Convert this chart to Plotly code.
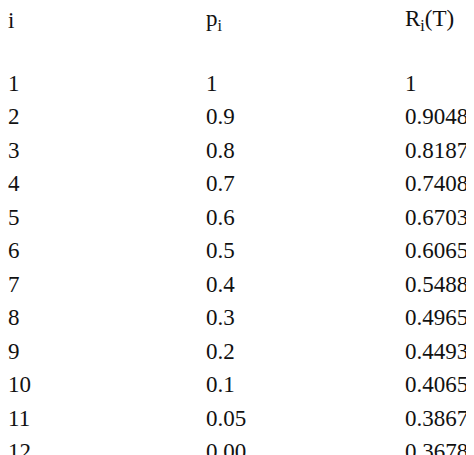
import plotly.graph_objects as go

headers = ["i", "p<sub>i</sub>", "R<sub>i</sub>(T)"]
idx = ["1", "2", "3", "4", "5", "6", "7", "8", "9", "10", "11", "12"]
p_vals = ["1", "0.9", "0.8", "0.7", "0.6", "0.5", "0.4", "0.3", "0.2", "0.1", "0.05", "0.00"]
r_vals = ["1", "0.90484", "0.81873", "0.74081", "0.67032", "0.60653",
          "0.54881", "0.49658", "0.44932", "0.40657", "0.38674", "0.36787"]

font = dict(family="Liberation Serif, Times New Roman, serif", size=23, color="#111")
header_row = -0.88

fig = go.Figure()
# invisible trace so the axes exist
fig.add_trace(go.Scatter(x=[0, 2], y=[1, 12], mode="markers",
                         marker=dict(opacity=0), hoverinfo="skip", showlegend=False))

annotations = []
for col, vals in enumerate([idx, p_vals, r_vals]):
    annotations.append(dict(x=col, y=header_row, text=headers[col]))
    for row, v in enumerate(vals, start=1):
        annotations.append(dict(x=col, y=row, text=v))
for a in annotations:
    a.update(xref="x", yref="y", xanchor="left", yanchor="middle",
             showarrow=False, font=font, xshift=-2)

fig.update_xaxes(range=[0, 2.388], visible=False)
fig.update_yaxes(range=[12.34, -1.24], visible=False)
fig.update_layout(width=474, height=455, margin=dict(l=0, r=0, t=0, b=0),
                  annotations=annotations,
                  plot_bgcolor="white", paper_bgcolor="white")
fig.write_html("out.html")
